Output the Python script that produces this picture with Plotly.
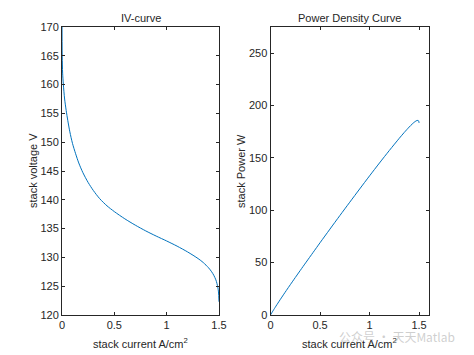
import plotly.graph_objects as go

# stack current density (A/cm^2)
current = [0.0, 0.002, 0.006, 0.013, 0.025, 0.04, 0.055, 0.075, 0.1, 0.13, 0.16, 0.2, 0.25, 0.3,
           0.36, 0.43, 0.5, 0.6, 0.7, 0.8, 0.9, 1.0, 1.1, 1.2, 1.3, 1.35, 1.4, 1.43, 1.45,
           1.47, 1.48, 1.49, 1.495, 1.5]
# stack voltage (V)
voltage = [172.0, 165.0, 162.0, 160.0, 157.5, 155.5, 153.8, 151.8, 149.8, 148.0, 146.4, 144.7, 143.0, 141.6,
           140.2, 138.95, 137.95, 136.7, 135.6, 134.6, 133.7, 132.85, 131.95, 130.95, 129.8, 129.1, 128.2, 127.5,
           126.9, 126.1, 125.5, 124.7, 124.0, 122.3]
# stack power (W) = current * voltage
power = [i * v for i, v in zip(current, voltage)]

iv_xticks = [0, 0.5, 1, 1.5]
iv_yticks = [120, 125, 130, 135, 140, 145, 150, 155, 160, 165, 170]
p_xticks = [0, 0.5, 1, 1.5]
p_yticks = [0, 50, 100, 150, 200, 250]
x_ticklabels = ["0", "0.5", "1", "1.5"]

LINE = "#0072BD"
AX = "#262626"
FONT = "Liberation Sans, Arial, sans-serif"

# page body has an 8px margin: figure is placed at (8, 8)
OFF = 8
W, H = 474 - OFF, 355 - OFF


def px(x):
    return (x - OFF) / W


def py(y):
    return 1 - (y - OFF) / H


fig = go.Figure()
fig.add_trace(go.Scatter(x=current, y=voltage, mode="lines",
                         line=dict(color=LINE, width=1, shape="spline", smoothing=0.8),
                         xaxis="x", yaxis="y", showlegend=False))
fig.add_trace(go.Scatter(x=current, y=power, mode="lines",
                         line=dict(color=LINE, width=1, shape="spline", smoothing=0.8),
                         xaxis="x2", yaxis="y2", showlegend=False))

axcommon = dict(showline=True, linecolor=AX, linewidth=1, mirror="allticks", ticks="inside",
                ticklen=3, tickcolor=AX, showgrid=False, zeroline=False, automargin=False,
                tickfont=dict(size=11, color=AX, family=FONT))

x0d = [px(62), px(219)]
x1d = [px(270.5), px(429)]
yd = [py(315), py(27)]

fig.update_layout(
    width=W, height=H,
    margin=dict(l=0, r=0, t=0, b=0),
    paper_bgcolor="white", plot_bgcolor="white",
    font=dict(family=FONT, color=AX, size=11),
    xaxis=dict(domain=x0d, range=[0, 1.5], tickvals=iv_xticks, ticktext=x_ticklabels,
               anchor="y", **axcommon),
    yaxis=dict(domain=yd, range=[120, 170], tickvals=iv_yticks, anchor="x", **axcommon),
    xaxis2=dict(domain=x1d, range=[0, 1.6], tickvals=p_xticks, ticktext=x_ticklabels,
                anchor="y2", **axcommon),
    yaxis2=dict(domain=yd, range=[0, 275], tickvals=p_yticks, anchor="x2", **axcommon),
)

ann = [
    dict(text="IV-curve", x=(x0d[0] + x0d[1]) / 2, y=py(18)),
    dict(text="Power Density Curve", x=(x1d[0] + x1d[1]) / 2, y=py(18)),
    dict(text="stack current A/cm<sup>2</sup>", x=(x0d[0] + x0d[1]) / 2, y=py(343)),
    dict(text="stack current A/cm<sup>2</sup>", x=(x1d[0] + x1d[1]) / 2, y=py(343)),
]
for a in ann:
    fig.add_annotation(xref="paper", yref="paper", showarrow=False, xanchor="center", yanchor="middle",
                       font=dict(size=11, color=AX, family=FONT), **a)
fig.add_annotation(text="stack voltage V", xref="paper", yref="paper", x=px(33), y=(yd[0] + yd[1]) / 2,
                   xanchor="center", yanchor="middle",
                   textangle=-90, showarrow=False, font=dict(size=11, color=AX, family=FONT))
fig.add_annotation(text="stack Power W", xref="paper", yref="paper", x=px(241), y=(yd[0] + yd[1]) / 2,
                   xanchor="center", yanchor="middle",
                   textangle=-90, showarrow=False, font=dict(size=11, color=AX, family=FONT))
# watermark
fig.add_annotation(text="公众号 · 天天Matlab", xref="paper", yref="paper", x=px(397), y=py(336),
                   xanchor="center", yanchor="middle",
                   showarrow=False, font=dict(size=12, color="rgba(160,160,160,0.5)",
                                              family="Noto Sans CJK SC, sans-serif"))

fig.write_html("out.html")
